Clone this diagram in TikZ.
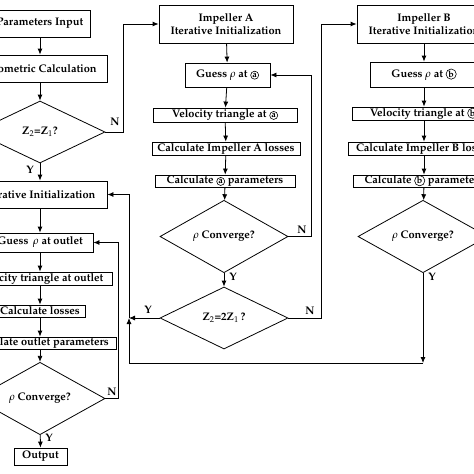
\documentclass[tikz,border=0pt]{standalone}
\usepackage[T1]{fontenc}
\usepackage{mathpazo}
\usetikzlibrary{arrows.meta,shapes.geometric,calc}

\newcommand{\txt}{\fontsize{11}{12.5}\selectfont\bfseries}
\tikzset{
  box/.style={draw, line width=0.8pt, inner sep=0pt, font=\txt, align=center},
  cond/.style={draw, diamond, line width=0.8pt, inner sep=0pt, minimum width=130pt, minimum height=62pt, font=\txt},
  flow/.style={line width=0.8pt, -{Latex[length=6pt,width=5pt]}},
  lbl/.style={font=\txt, inner sep=0pt}
}
\newcommand{\encl}[1]{\tikz[baseline=(e.base)]{\node[draw,circle,inner sep=0.6pt,minimum size=0pt,line width=0.6pt,font=\small\bfseries](e){#1};}}

\begin{document}
\begin{tikzpicture}[x=1pt,y=-1pt]
    \useasboundingbox (0,0) rectangle (474,474);
    \clip (0,0) rectangle (474,474);

    % main column
    \node [box, minimum width=100pt, minimum height=27pt] (inp) at (40,23.5) {Parameters Input};
    \node [box, minimum width=134pt, minimum height=27pt] (geo) at (40,68.5) {Geometric Calculation};
    \node [cond] (zz) at (40,132) {Z$_2$=Z$_1$?};
    \node [box, minimum width=134pt, minimum height=27pt] (init) at (40,194.5) {Iterative Initialization};
    \node [box, minimum width=106pt, minimum height=19pt] (guess) at (40,242.5) {Guess \,$\rho$ at outlet};
    \node [box, minimum width=144pt, minimum height=13pt] (vel) at (40,278.5) {Velocity triangle at outlet};
    \node [box, minimum width=90pt, minimum height=12pt] (loss) at (40,311) {Calculate losses};
    \node [box, minimum width=152pt, minimum height=12pt] (par) at (40,343) {Calculate outlet parameters};
    \node [cond] (conv) at (40,398.5) {$\rho$ Converge?};
    \node [box, minimum width=53pt, minimum height=17pt] (out) at (40.5,456.5) {Output};

    % impeller A
    \node [box, minimum width=134pt, minimum height=38pt] (impA) at (226,24) {Impeller A\\Iterative Initialization};
    \node [box, minimum width=85pt, minimum height=24pt] (guessA) at (227.5,75) {Guess $\rho$ at \encl{a}};
    \node [box, minimum width=144pt, minimum height=14pt] (velA) at (225,115) {Velocity triangle at \encl{a}};
    \node [box, minimum width=148pt, minimum height=13pt] (lossA) at (226,148.5) {Calculate Impeller A losses};
    \node [box, minimum width=140pt, minimum height=12pt] (parA) at (225,181) {Calculate \encl{a} parameters};
    \node [cond, minimum width=128pt] (convA) at (224,236.5) {$\rho$ Converge?};
    \node [cond, minimum width=128pt] (zzA) at (224,318) {Z$_2$=2Z$_1$\,?};

    % impeller B
    \node [box, minimum width=134pt, minimum height=38pt] (impB) at (424,24) {Impeller B\\Iterative Initialization};
    \node [box, minimum width=108pt, minimum height=25pt] (guessB) at (424,74.5) {Guess $\rho$ at \encl{b}};
    \node [box, minimum width=144pt, minimum height=13pt] (velB) at (424,113.5) {Velocity triangle at \encl{b}};
    \node [box, minimum width=152pt, minimum height=13pt] (lossB) at (424,148.5) {Calculate Impeller B losses};
    \node [box, minimum width=142pt, minimum height=12pt] (parB) at (424,181) {Calculate \encl{b} parameters};
    \node [cond] (convB) at (423,236.5) {$\rho$ Converge?};

    % bends
    \coordinate (toA) at (123,24);
    \coordinate (backG) at (118,242.5);
    \coordinate (backGA) at (311,75);
    \coordinate (toB) at (321,24);
    \coordinate (endB) at (423,363);
    \coordinate (low) at (129,363);
    \coordinate (join) at (129,318);

    \draw [flow] (inp) -- (geo);
    \draw [flow] (geo) -- (zz);
    \draw [flow] (zz) -- (init);
    \draw [flow] (init) -- (guess);
    \draw [flow] (guess) -- (vel);
    \draw [flow] (vel) -- (loss);
    \draw [flow] (loss) -- (par);
    \draw [flow] (par) -- (conv);
    \draw [flow] (conv) -- (out);
    \draw [flow] (zz.east) -| (toA) -- (impA.west);
    \draw [flow] (conv.east) -| (backG) -- (guess.east);

    \draw [flow] (impA) -- (guessA);
    \draw [flow] (guessA) -- (velA);
    \draw [flow] (velA) -- (lossA);
    \draw [flow] (lossA) -- (parA);
    \draw [flow] (parA) -- (convA);
    \draw [flow] (convA) -- (zzA);
    \draw [flow] (convA.east) -| (backGA) -- (guessA.east);
    \draw [flow] (zzA.east) -| (toB) -- (impB.west);
    \draw [flow] (zzA.west) -- (join);

    \draw [flow] (impB) -- (guessB);
    \draw [flow] (guessB) -- (velB);
    \draw [flow] (velB) -- (lossB);
    \draw [flow] (lossB) -- (parB);
    \draw [flow] (parB) -- (convB);
    \draw [flow] (convB) -- (endB);
    \draw [flow] (endB) -- (low) -- (join);
    \draw [flow] (join) |- (init.east);

    % branch labels
    \node [lbl] (y1) at (30,170) {Y};
    \node [lbl] (n1) at (115,122) {N};
    \node [lbl] (y2) at (49,438) {Y};
    \node [lbl] (n2) at (112,392) {N};
    \node [lbl] (y3) at (233,277) {Y};
    \node [lbl] (n3) at (302,230) {N};
    \node [lbl] (y4) at (148,310) {Y};
    \node [lbl] (n4) at (310,311) {N};
    \node [lbl] (y5) at (432,277) {Y};
\end{tikzpicture}
\end{document}
